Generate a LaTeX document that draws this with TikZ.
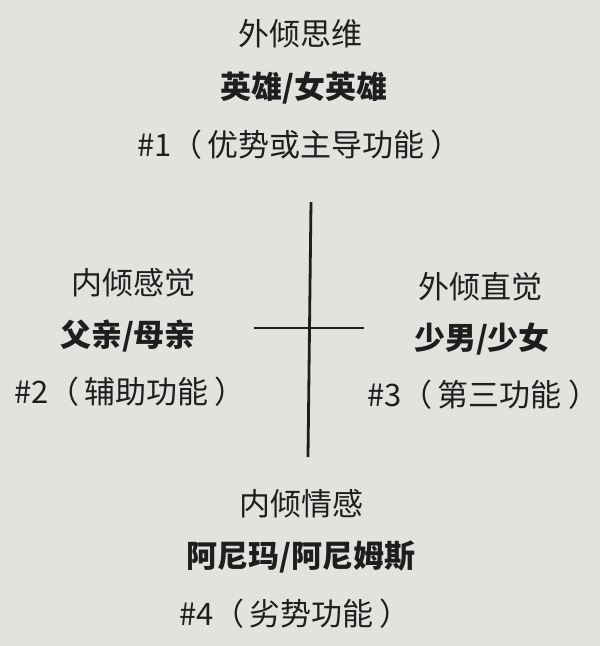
\documentclass[tikz,border=0pt]{standalone}
\usepackage{fontspec}
\setmainfont{Noto Sans CJK SC}
\newfontfamily\cjk{Noto Sans CJK SC}
\definecolor{paper}{HTML}{E3E2DE}
\definecolor{ink}{HTML}{1E1E1E}
\newcommand{\lp}{（\hspace{5pt}}
\newcommand{\rp}{\hspace{6pt}）}
\begin{document}
\begin{tikzpicture}[x=1pt,y=-1pt,
  lbl/.style={inner sep=0pt,text=ink,font=\cjk\fontsize{31}{31}\selectfont},
  hero/.style={lbl,font=\cjk\bfseries\fontsize{31}{31}\selectfont},
  axis/.style={draw=ink,line width=2.8pt}]
\fill[paper] (0,0) rectangle (600,646);
\useasboundingbox (0,0) rectangle (600,646);
% top
\node[lbl]  (t1) at (300,34) {外倾思维};
\node[hero] (t2) at (304,88) {英雄/女英雄};
\node[lbl,anchor=west] (t3) at (137,145) {\#1\lp 优势或主导功能\rp};
% left
\node[lbl]  (l1) at (133,283) {内倾感觉};
\node[hero] (l2) at (128,336) {父亲/母亲};
\node[lbl,anchor=west] (l3) at (14,392) {\#2\lp 辅助功能\rp};
% right
\node[lbl]  (r1) at (480,287) {外倾直觉};
\node[hero] (r2) at (482,339) {少男/少女};
\node[lbl,anchor=west] (r3) at (367,395) {\#3\lp 第三功能\hspace{1pt}\rp};
% bottom
\node[lbl]  (b1) at (301,504) {内倾情感};
\node[hero] (b2) at (301,557) {阿尼玛/阿尼姆斯};
\node[lbl,anchor=west] (b3) at (179,614) {\#4\lp 劣势功能\rp};
% cross
\coordinate (vtop) at (311,202);
\coordinate (vbot) at (308,457);
\coordinate (hl) at (254,328);
\coordinate (hr) at (364,328);
\draw[axis] (vtop) -- (vbot);
\draw[axis] (hl) -- (hr);
\end{tikzpicture}
\end{document}
